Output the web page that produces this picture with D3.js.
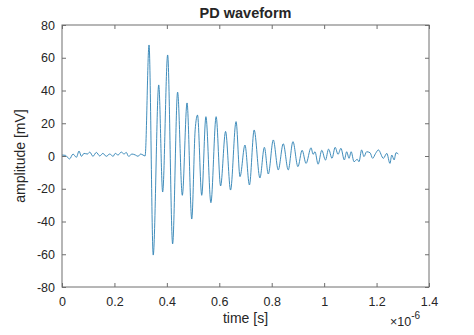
<!DOCTYPE html>
<html>
<head>
<meta charset="utf-8">
<script src="https://cdn.jsdelivr.net/npm/d3@7"></script>
<style>
  html, body { margin: 0; padding: 0; background: #fff; }
  svg { display: block; }
  text { font-family: "Liberation Sans", Arial, Helvetica, sans-serif; fill: #262626; }
</style>
</head>
<body>
<svg id="chart" width="474" height="335"></svg>
<script>
// time in units of 1e-6 s
const timeUs = [
  0.000, 0.013, 0.029, 0.042, 0.055, 0.065, 0.074, 0.084, 0.097, 0.106,
  0.118, 0.131, 0.144, 0.156, 0.169, 0.182, 0.195, 0.203, 0.214, 0.226,
  0.237, 0.245, 0.254, 0.267, 0.280, 0.290, 0.300, 0.309, 0.317,
  0.332, 0.348, 0.369, 0.384, 0.403, 0.422, 0.441, 0.459, 0.477, 0.495,
  0.508, 0.517, 0.533, 0.549, 0.568, 0.588, 0.605, 0.624, 0.643, 0.664,
  0.679, 0.698, 0.715, 0.733, 0.755, 0.772, 0.787, 0.806, 0.825, 0.844,
  0.863, 0.881, 0.900, 0.916, 0.931, 0.950, 0.958, 0.965, 0.977, 0.991,
  1.005, 1.017, 1.030, 1.042, 1.053, 1.064, 1.077, 1.086, 1.095, 1.103,
  1.114, 1.126, 1.133, 1.143, 1.152, 1.162, 1.175, 1.185, 1.196, 1.207,
  1.226, 1.239, 1.251, 1.258, 1.267, 1.274, 1.283
];
// amplitude in mV
const amplitudeMv = [
  0.6, 0.4, -1.8, 1.2, -0.8, 3.0, -0.2, 1.6, 1.2, 2.4,
  -0.2, 2.2, 0.0, 1.6, -0.2, 1.2, -0.2, 1.6, 0.6, 2.4,
  1.2, 2.2, -0.2, 1.2, 0.6, -0.2, 1.2, 0.6, 0.0,
  67.8, -60.5, 43.4, -22.0, 61.7, -53.7, 39.0, -24.0, 32.4, -38.5,
  16.0, 25.0, -24.0, 24.0, -28.5, 24.0, -18.3, 15.0, -20.8, 21.0,
  -12.6, 6.7, -17.7, 15.9, -13.4, 5.3, -11.0, 9.8, -8.5, 7.5,
  -8.5, 8.8, -6.5, 3.5, -4.5, 5.0, 1.0, 2.6, -5.0, 3.5,
  -2.5, 4.2, -1.4, 5.3, 1.0, 4.7, -2.4, 2.6, -1.4, 2.6,
  -3.5, -2.0, -3.5, 3.7, -0.4, 2.6, 2.0, -1.4, 1.5, 3.7,
  -1.4, 1.6, -4.5, 0.6, -2.4, 2.0, 1.2
];
const xTicks = [0, 0.2, 0.4, 0.6, 0.8, 1, 1.2, 1.4];
const yTicks = [-80, -60, -40, -20, 0, 20, 40, 60, 80];
const titleText = "PD waveform";
const xLabelText = "time [s]";
const yLabelText = "amplitude [mV]";
const exponentText = "-6";

const W = 474, H = 335;
const margin = { left: 62, right: 45, top: 25, bottom: 48 };
const svg = d3.select("#chart");
const x = d3.scaleLinear().domain([0, 1.4]).range([margin.left, W - margin.right]);
const y = d3.scaleLinear().domain([-80, 80]).range([H - margin.bottom, margin.top]);

const axisColor = "#6e6e6e";
const tickLen = 4;

function styleAxis(g) {
  g.select(".domain").remove();
  g.selectAll(".tick line").attr("stroke", axisColor).attr("stroke-width", 1);
  g.selectAll(".tick text").attr("font-size", 12.5).attr("fill", "#262626")
    .attr("font-family", "Liberation Sans, Arial, sans-serif");
}

// Line
const line = d3.line()
  .x((d, i) => x(timeUs[i]))
  .y(d => y(d))
  .curve(d3.curveMonotoneX);

svg.append("path")
  .datum(amplitudeMv)
  .attr("fill", "none")
  .attr("stroke", "#2b80b3")
  .attr("stroke-width", 0.9)
  .attr("stroke-linejoin", "round")
  .attr("d", line);

// Axes
svg.append("g").attr("transform", `translate(0,${y(-80)})`)
  .call(d3.axisBottom(x).tickValues(xTicks).tickFormat(d => String(d)).tickSizeInner(-tickLen).tickSizeOuter(0).tickPadding(10))
  .call(styleAxis);
svg.append("g").attr("transform", `translate(0,${y(80)})`)
  .call(d3.axisTop(x).tickValues(xTicks).tickFormat("").tickSizeInner(-tickLen).tickSizeOuter(0))
  .call(styleAxis);
svg.append("g").attr("transform", `translate(${x(0)},0)`)
  .call(d3.axisLeft(y).tickValues(yTicks).tickFormat(d => String(d)).tickSizeInner(-tickLen).tickSizeOuter(0).tickPadding(7))
  .call(styleAxis);
svg.append("g").attr("transform", `translate(${x(1.4)},0)`)
  .call(d3.axisRight(y).tickValues(yTicks).tickFormat("").tickSizeInner(-tickLen).tickSizeOuter(0))
  .call(styleAxis);

// Box
svg.append("rect")
  .attr("x", x(0)).attr("y", y(80))
  .attr("width", x(1.4) - x(0)).attr("height", y(-80) - y(80))
  .attr("fill", "none").attr("stroke", axisColor).attr("stroke-width", 1);

// Title
svg.append("text")
  .attr("x", (x(0) + x(1.4)) / 2).attr("y", 18)
  .attr("text-anchor", "middle").attr("font-size", 14.5).attr("font-weight", "bold")
  .attr("fill", "#000")
  .text(titleText);

// X label
svg.append("text")
  .attr("x", (x(0) + x(1.4)) / 2).attr("y", 323)
  .attr("text-anchor", "middle").attr("font-size", 14)
  .text(xLabelText);

// Y label
svg.append("text")
  .attr("transform", `translate(25,${(y(80) + y(-80)) / 2}) rotate(-90)`)
  .attr("text-anchor", "middle").attr("font-size", 14)
  .text(yLabelText);

// Exponent
const ex = svg.append("text").attr("x", 390).attr("y", 326).attr("font-size", 12.5);
ex.append("tspan").text("\u00d710");
ex.append("tspan").attr("dy", -7).attr("font-size", 10).text(exponentText);
</script>
</body>
</html>
